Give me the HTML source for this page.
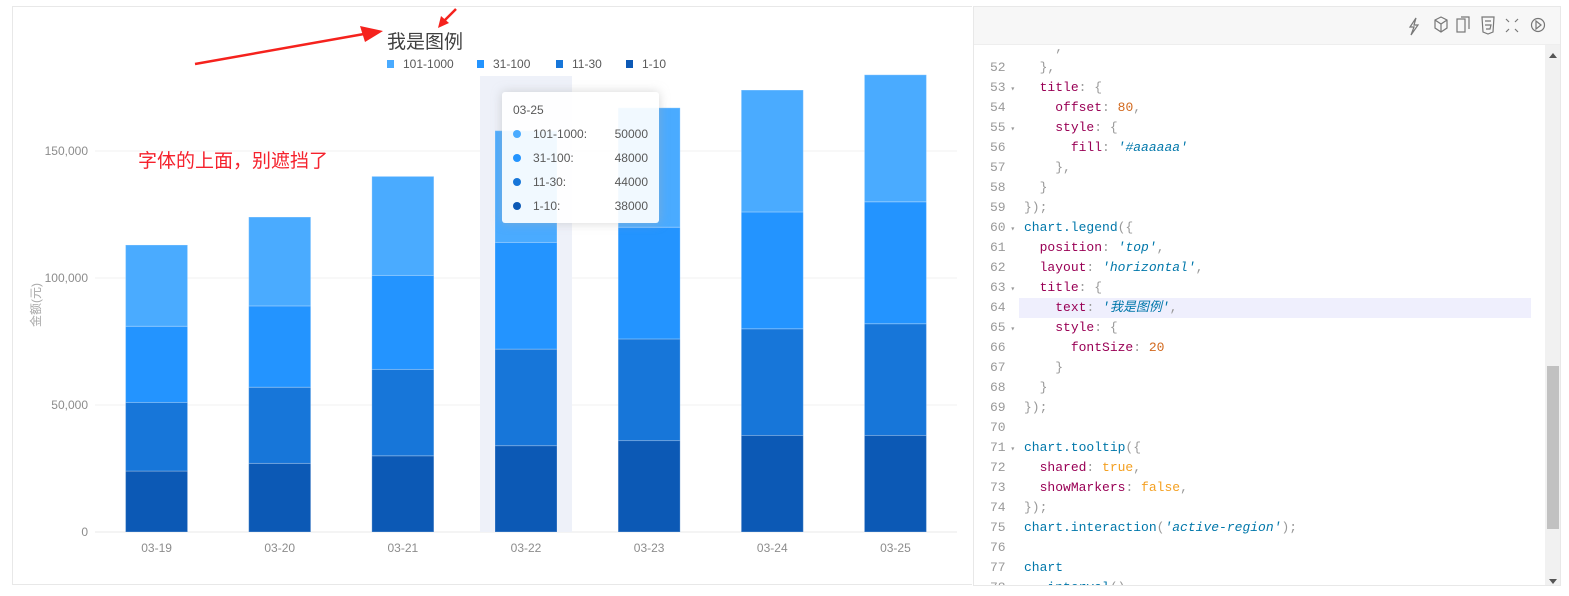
<!DOCTYPE html>
<html><head><meta charset="utf-8">
<style>
body{margin:0;width:1569px;height:596px;background:#fff;position:relative;overflow:hidden;font-family:"Liberation Sans","Noto Sans CJK SC",sans-serif;}
#chartpanel{position:absolute;left:12px;top:6px;width:960px;height:579px;border:1px solid #e8e8e8;border-right:none;box-sizing:border-box;}
#editor{position:absolute;left:973px;top:6px;width:588px;height:580px;border:1px solid #e8e8e8;box-sizing:border-box;background:#fff;overflow:hidden;}
#toolbar{position:absolute;left:0;top:0;width:100%;height:37px;background:#f7f7f7;border-bottom:1px solid #eee;z-index:2;}
.code{position:absolute;left:0;font-family:"Liberation Mono","Noto Sans CJK SC",monospace;font-size:13px;white-space:pre;line-height:20px;height:20px;}
.ln{position:absolute;left:16px;color:#999;}
.tx{position:absolute;left:50px;color:#999;}
.k{color:#905}.s{color:#07a;font-style:italic}.n{color:#d2691e}.b{color:#f4a021}.f{color:#07a}
</style></head><body>
<div id="chartpanel"></div>
<svg id="chart" width="972" height="596" style="position:absolute;left:0;top:0">
<g id="grid"></g><g id="band"></g><g id="bars"></g><g id="axes"></g>
</svg>
<div id="editor">
<div id="toolbar">
<svg width="588" height="37" style="position:absolute;left:0;top:0" stroke="#777" fill="none" stroke-width="1.2">
<path d="M442 11 L436 20 L440 20 L437 28 L444 18 L440 18 Z"/>
<path d="M461 13 L467 10 L473 13 L473 21 L467 25 L461 21 Z M461 13 L467 17 L473 13 M467 17 L467 25"/>
<rect x="483" y="12" width="8" height="13"/><path d="M487 10 L495 10 L495 22"/>
<path d="M508 10 L520 10 L519 25 L514 27 L509 25 Z M511 14 L517 14 M511 18 L517 18 L516 22 L512 22"/>
<path d="M532 12 L535 15 M544 12 L541 15 M532 25 L535 22 M544 25 L541 22"/>
<circle cx="564" cy="18" r="6.5"/><path d="M562 14 L567 18 L562 22 Z"/>
</svg></div>
<div id="code"></div>
<div style="position:absolute;left:571px;top:37px;width:15px;height:541px;background:#f1f1f1"></div>
<div style="position:absolute;left:573px;top:359px;width:12px;height:163px;background:#c1c1c1"></div>
<div style="position:absolute;left:575px;top:46px;width:0;height:0;border:4px solid transparent;border-bottom:5px solid #555;border-top:none"></div>
<div style="position:absolute;left:575px;top:572px;width:0;height:0;border:4px solid transparent;border-top:5px solid #555;border-bottom:none"></div>
</div>
<div style="position:absolute;left:502px;top:92px;width:157px;height:131px;background:rgba(255,255,255,0.92);border-radius:3px;box-shadow:0 0 10px rgba(174,174,174,0.5);font-size:12px;color:#595959;">
<div style="position:absolute;left:11px;top:11px">03-25</div>
<div id="tiprows"></div>
</div>
<div style="position:absolute;left:387px;top:27px;font-size:19px;color:#404040">我是图例</div>
<div id="legend"></div>
<div style="position:absolute;left:138px;top:146px;font-size:19px;color:#f5222d">字体的上面，别遮挡了</div>
<svg width="500" height="80" style="position:absolute;left:0;top:0">
<path d="M195 64 L364 34" stroke="#f5221d" stroke-width="2.5"/><path d="M383 31 L360 26 L365 42 Z" fill="#f5221d"/>
<path d="M456 9 L444 21" stroke="#f5221d" stroke-width="2.5"/><path d="M438 28 L441 16 L449 23 Z" fill="#f5221d"/>
</svg>
<script>
const categories=['03-19','03-20','03-21','03-22','03-23','03-24','03-25'];
const seriesNames=['1-10','11-30','31-100','101-1000'];
const s1_10=[24000,27000,30000,34000,36000,38000,38000];
const s11_30=[27000,30000,34000,38000,40000,42000,44000];
const s31_100=[30000,32000,37000,42000,44000,46000,48000];
const s101_1000=[32000,35000,39000,44000,47000,48000,50000];
const yTicks=[0,50000,100000,150000];
const colors=['#0c59b5','#1776d9','#2394ff','#4aabff'];
const NS='http://www.w3.org/2000/svg';
const x0=95,x1=957,y0=532,yScale=381/150000;
const step=(x1-x0)/categories.length;
const xc=i=>x0+step*(i+0.5);
const y=v=>y0-v*yScale;
function mk(tag,attrs,parent){const e=document.createElementNS(NS,tag);for(const k in attrs)e.setAttribute(k,attrs[k]);parent.appendChild(e);return e;}
const grid=document.getElementById('grid'),axes=document.getElementById('axes'),bars=document.getElementById('bars'),band=document.getElementById('band');
yTicks.forEach(t=>{
 const l=mk('line',{x1:x0,x2:x1,y1:y(t),y2:y(t),stroke:t===0?'#e8e8e8':'#f0f0f0','stroke-width':1},grid);
 
 
 const tx=mk('text',{x:88,y:y(t)+4,'text-anchor':'end','font-size':12,fill:'#8c8c8c'},axes);
 tx.textContent=t.toLocaleString('en-US');
 
 
});
const yt=mk('text',{x:0,y:0,'font-size':12,fill:'#a8a8a8','text-anchor':'middle',transform:'translate(40,305) rotate(-90)'},axes);
yt.textContent='金额(元)';


const hb=mk('rect',{x:xc(3)-46,y:76,width:92,height:y0-76,fill:'#eef1f9'},band);


const series=[s1_10,s11_30,s31_100,s101_1000];
const bw=62;
categories.forEach((c,i)=>{
 let acc=0;
 series.forEach((s,j)=>{
  const top=acc+s[i];
  const r=mk('rect',{x:xc(i)-bw/2,y:y(top),width:bw,height:y(acc)-y(top),fill:colors[j],stroke:'#ffffff','stroke-opacity':0.25,'stroke-width':1},bars);
  
  
  acc=top;
 });
 const tx=mk('text',{x:xc(i),y:552,'text-anchor':'middle','font-size':12,fill:'#8c8c8c'},axes);
 tx.textContent=c;
 
 
});
const legend=document.getElementById('legend');
const legOrder=[3,2,1,0],legX=[387,477,556,626];
legOrder.forEach((j,k)=>{
 const d=document.createElement('div');
 
 
 d.style.cssText='position:absolute;top:57px;left:'+legX[k]+'px;font-size:12px;color:#595959;white-space:nowrap';
 d.innerHTML='<span style="display:inline-block;width:7px;height:8px;background:'+colors[j]+';margin-right:9px"></span>'+seriesNames[j];
 legend.appendChild(d);
});
const tip=document.getElementById('tiprows');
const li=categories.length-1;
legOrder.forEach((j,k)=>{
 const d=document.createElement('div');
 
 
 d.style.cssText='position:absolute;left:11px;top:'+(35+k*24)+'px;width:135px;';
 d.innerHTML='<span style="display:inline-block;width:8px;height:8px;border-radius:50%;background:'+colors[j]+';margin-right:12px"></span>'+seriesNames[j]+':<span style="position:absolute;right:0">'+series[j][li]+'</span>';
 tip.appendChild(d);
});
const lines=[
[null,'    <span>,</span>'],
[52,'  },'],
[53,'  <span class="k">title</span>: {'],
[54,'    <span class="k">offset</span>: <span class="n">80</span>,'],
[55,'    <span class="k">style</span>: {'],
[56,'      <span class="k">fill</span>: <span class="s">\'#aaaaaa\'</span>'],
[57,'    },'],
[58,'  }'],
[59,'});'],
[60,'<span class="f">chart.legend</span>({'],
[61,'  <span class="k">position</span>: <span class="s">\'top\'</span>,'],
[62,'  <span class="k">layout</span>: <span class="s">\'horizontal\'</span>,'],
[63,'  <span class="k">title</span>: {'],
[64,'    <span class="k">text</span>: <span class="s">\'我是图例\'</span>,'],
[65,'    <span class="k">style</span>: {'],
[66,'      <span class="k">fontSize</span>: <span class="n">20</span>'],
[67,'    }'],
[68,'  }'],
[69,'});'],
[70,''],
[71,'<span class="f">chart.tooltip</span>({'],
[72,'  <span class="k">shared</span>: <span class="b">true</span>,'],
[73,'  <span class="k">showMarkers</span>: <span class="b">false</span>,'],
[74,'});'],
[75,'<span class="f">chart.interaction</span>(<span class="s">\'active-region\'</span>);'],
[76,''],
[77,'<span class="f">chart</span>'],
[78,'  <span class="f">.interval</span>()']
];
const code=document.getElementById('code');
const folds=[53,55,60,63,65,71];
lines.forEach((l,i)=>{
 const top=37+i*20-6;
 const d=document.createElement('div');
 d.className='code';
 
 
 d.style.top=top+'px';d.style.width='570px';
 if(l[0]===64){d.style.background='#efeffd';d.style.left='45px';d.style.width='512px';}
 d.innerHTML=(l[0]!==null?'<span class="ln" style="'+(l[0]===64?'left:-29px':'')+'">'+l[0]+(folds.includes(l[0])?'<span style="font-size:8px"> ▾</span>':'')+'</span>':'')+'<span class="tx" style="'+(l[0]===64?'left:5px':'')+'">'+l[1]+'</span>';
 code.appendChild(d);
});
</script>
</body></html>
